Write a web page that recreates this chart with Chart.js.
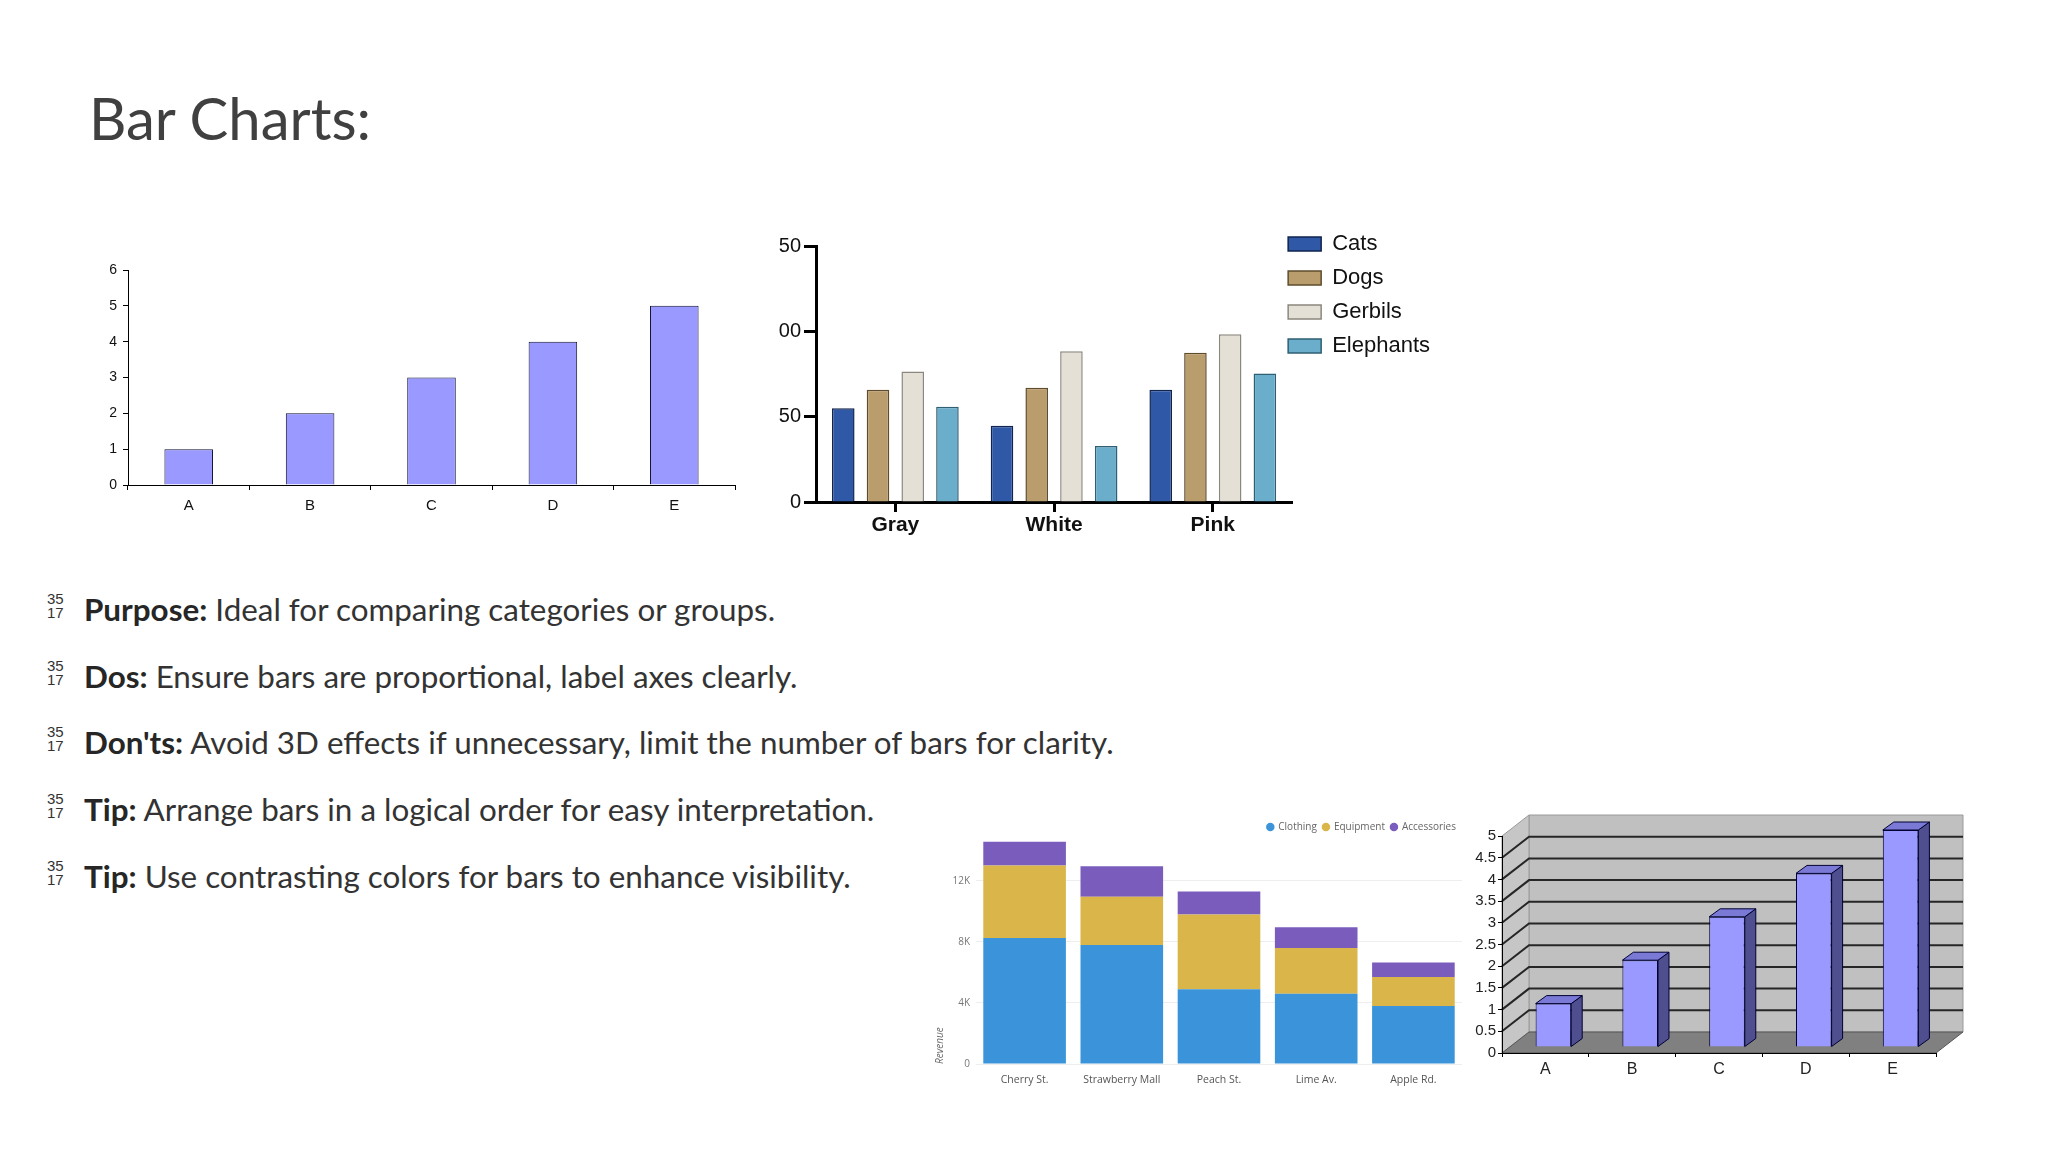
<!DOCTYPE html>
<html>
<head>
<meta charset="utf-8">
<script src="https://cdn.jsdelivr.net/npm/chart.js@4.4.1/dist/chart.umd.min.js"></script>
<style>
  body { margin: 0; width: 2048px; height: 1152px; background: #fff; position: relative; overflow: hidden; font-family: Lato, "Open Sans", sans-serif; }
  canvas { position: absolute; }
  .title { position: absolute; left: 89px; top: 83px; margin: 0; font-size: 58px; line-height: 70px; font-weight: 400; color: #404040; white-space: nowrap; }
  .row { position: absolute; left: 84px; font-size: 31.4px; line-height: 38px; color: #333; white-space: nowrap; }
  .row b { color: #262626; }
  .mark { position: absolute; left: 47px; font-family: "Liberation Sans", Arial, sans-serif; font-size: 15px; line-height: 14px; color: #333; }
</style>
</head>
<body>
<div class="title">Bar Charts:</div>

<canvas id="simple" width="700" height="280" style="left:60px;top:250px"></canvas>
<canvas id="pets" width="740" height="325" style="left:740px;top:215px"></canvas>
<canvas id="revenue" width="560" height="293" style="left:920px;top:809px"></canvas>
<canvas id="fake3d" width="520" height="300" style="left:1470px;top:800px"></canvas>

<div id="notes"></div>

<script>
// data: simple bar chart (top left)
const simpleLabels = ['A', 'B', 'C', 'D', 'E'];
const simpleValues = [1, 2, 3, 4, 5];

// data: grouped pets chart (top middle)
const petGroups    = ['Gray', 'White', 'Pink'];
const petCats      = [55, 44.7, 65.7];
const petDogs      = [65.7, 66.9, 87.4];
const petGerbils   = [76.5, 88.4, 98.3];
const petElephants = [55.8, 32.8, 75.3];
const petTickText  = { 0: '0', 50: '50', 100: '00', 150: '50' };  // leading digit is cut off in the source

// data: stacked revenue chart (bottom middle)
const stores       = ['Cherry St.', 'Strawberry Mall', 'Peach St.', 'Lime Av.', 'Apple Rd.'];
const clothing     = [8250, 7800, 4900, 4600, 3800];
const equipment    = [4750, 3150, 4900, 3000, 1900];
const accessories  = [1550, 2000, 1500, 1350, 950];
const revenueTicks = [0, 4000, 8000, 12000];

// data: 3D style bar chart (bottom right)
const depthLabels = ['A', 'B', 'C', 'D', 'E'];
const depthValues = [1, 2, 3, 4, 5];

// bullet text
const notes = [
    ['Purpose:', 'Ideal for comparing categories or groups.'],
    ['Dos:', 'Ensure bars are proportional, label axes clearly.'],
    ["Don'ts:", 'Avoid 3D effects if unnecessary, limit the number of bars for clarity.'],
    ['Tip:', 'Arrange bars in a logical order for easy interpretation.'],
    ['Tip:', 'Use contrasting colors for bars to enhance visibility.']
];

const notesEl = document.getElementById('notes');
notesEl.innerHTML = notes.map((n, i) => {
    const base = 620 + i * 66.7;
    return `
    <div class="mark" style="top:${Math.round(base - 28)}px">35<br>17</div>
    <div class="row" style="top:${Math.round(base - 30)}px"><b>${n[0]}</b> ${n[1]}</div>`;
}).join('');

Chart.defaults.font.family = '"Liberation Sans", Arial, sans-serif';
Chart.defaults.animation = false;
Chart.defaults.responsive = false;
Chart.defaults.devicePixelRatio = 1;
Chart.defaults.plugins.tooltip.enabled = false;

// moves a legend box after layout
function shiftLegend(dx, dy) {
    return {
        id: 'shiftLegend',
        afterLayout(chart) {
            const l = chart.legend;
            l.left += dx; l.right += dx;
            l.top += dy;  l.bottom += dy;
        }
    };
}

// top left chart
new Chart(document.getElementById('simple'), {
    type: 'bar',
    data: {
        labels: simpleLabels,
        datasets: [{
            data: simpleValues,
            backgroundColor: '#9999ff',
            borderColor: '#111133',
            borderWidth: 1,
            categoryPercentage: 1,
            barPercentage: 0.4
        }]
    },
    options: {
        layout: { padding: { top: 20, right: 25, left: 0, bottom: 0 } },
        plugins: { legend: { display: false } },
        scales: {
            x: {
                grid: { drawOnChartArea: false, tickLength: 5, color: '#000', offset: true },
                border: { color: '#000' },
                ticks: { color: '#111', font: { size: 15 }, padding: 7 },
                afterFit: s => { s.height = 45; }
            },
            y: {
                min: 0, max: 6,
                grid: { drawOnChartArea: false, tickLength: 5, color: '#000' },
                border: { color: '#000' },
                ticks: { stepSize: 1, color: '#111', font: { size: 14 }, padding: 6 },
                afterFit: s => { s.width = 68; }
            }
        }
    }
});

// top middle chart
const petSeries = [
    ['Cats', petCats, '#2f58a6', '#10244f'],
    ['Dogs', petDogs, '#b99d6c', '#5f4c2d'],
    ['Gerbils', petGerbils, '#e4e0d6', '#8a877e'],
    ['Elephants', petElephants, '#6aaecb', '#2e5f73']
];

new Chart(document.getElementById('pets'), {
    type: 'bar',
    data: {
        labels: petGroups,
        datasets: petSeries.map(s => ({
            label: s[0],
            data: s[1],
            backgroundColor: s[2],
            borderColor: s[3],
            borderWidth: 1.5,
            categoryPercentage: 0.875,
            barPercentage: 0.65
        }))
    },
    options: {
        layout: { padding: { top: 31, right: 24, left: 0, bottom: 0 } },
        plugins: {
            legend: {
                position: 'right',
                align: 'start',
                labels: { boxWidth: 33, boxHeight: 14, padding: 12, color: '#111', font: { size: 22 } }
            }
        },
        scales: {
            x: {
                grid: { drawOnChartArea: false, offset: false, tickLength: 10, tickWidth: 3, tickColor: '#000' },
                border: { color: '#000', width: 3 },
                ticks: { color: '#111', font: { size: 21, weight: 'bold' }, padding: 1 },
                afterFit: s => { s.height = 38; }
            },
            y: {
                min: 0, max: 150,
                grid: { drawOnChartArea: false, tickLength: 12, tickWidth: 3, tickColor: '#000' },
                border: { color: '#000', width: 3 },
                ticks: { stepSize: 50, color: '#111', font: { size: 20 }, padding: 3, callback: v => petTickText[v] },
                afterFit: s => { s.width = 76; }
            }
        }
    },
    plugins: [shiftLegend(-16, -25)]
});

// bottom middle chart
const revenueSeries = [
    ['Clothing', clothing, '#3b94d9'],
    ['Equipment', equipment, '#d9b54a'],
    ['Accessories', accessories, '#7a5cbd']
];

new Chart(document.getElementById('revenue'), {
    type: 'bar',
    data: {
        labels: stores,
        datasets: revenueSeries.map(s => ({
            label: s[0],
            data: s[1],
            backgroundColor: s[2],
            borderWidth: 0,
            categoryPercentage: 1,
            barPercentage: 0.85
        }))
    },
    options: {
        layout: { padding: { top: 0, right: 18, left: 0, bottom: 0 } },
        plugins: {
            legend: {
                position: 'top',
                align: 'end',
                labels: {
                    usePointStyle: true, pointStyle: 'circle', boxWidth: 6, boxHeight: 6,
                    padding: 6, color: '#666', font: { family: '"Open Sans", sans-serif', size: 10 }
                }
            }
        },
        scales: {
            x: {
                stacked: true,
                grid: { display: false },
                border: { display: false },
                ticks: { color: '#555', font: { family: '"Open Sans", sans-serif', size: 10.5 }, padding: 2 },
                afterFit: s => { s.height = 38; }
            },
            y: {
                stacked: true,
                min: 0, max: 15000,
                grid: { color: '#eeeeee', drawTicks: false },
                border: { display: false },
                title: {
                    display: true, text: 'Revenue', align: 'start', color: '#666',
                    padding: { top: 14, bottom: 4 },
                    font: { family: '"Open Sans", sans-serif', size: 10, style: 'italic' }
                },
                ticks: {
                    padding: 6, color: '#777',
                    font: { family: '"Open Sans", sans-serif', size: 10 },
                    callback: v => v === 0 ? '0' : (v / 1000) + 'K'
                },
                afterBuildTicks: s => { s.ticks = revenueTicks.map(v => ({ value: v })); },
                afterFit: s => { s.width = 56; }
            }
        }
    },
    plugins: [shiftLegend(0, 7)]
});

// bottom right chart: walls, floor and bar depth drawn around normal bars
const wallDepth = { dx: 27, dy: -21 };
const barShift  = { dx: 8, dy: -6 };
const barDepth  = { dx: 11, dy: -8 };

function poly(ctx, pts, fill, stroke, lw) {
    ctx.beginPath();
    pts.forEach((p, i) => i ? ctx.lineTo(p[0], p[1]) : ctx.moveTo(p[0], p[1]));
    ctx.closePath();
    if (fill) { ctx.fillStyle = fill; ctx.fill(); }
    if (stroke) { ctx.strokeStyle = stroke; ctx.lineWidth = lw || 1; ctx.stroke(); }
}

const depthPlugin = {
    id: 'depth',
    beforeDraw(chart) {
        const { ctx, chartArea: a, scales: { y } } = chart;
        const { dx, dy } = wallDepth;
        const y0 = y.getPixelForValue(0);
        const yT = y.getPixelForValue(y.max);
        ctx.save();
        // back wall
        poly(ctx, [[a.left + dx, yT + dy], [a.right + dx, yT + dy], [a.right + dx, y0 + dy], [a.left + dx, y0 + dy]], '#c0c0c0', '#9a9a9a', 1);
        // left wall
        poly(ctx, [[a.left, y0], [a.left, yT], [a.left + dx, yT + dy], [a.left + dx, y0 + dy]], '#c6c6c6', '#9a9a9a', 1);
        // floor
        poly(ctx, [[a.left, y0], [a.right, y0], [a.right + dx, y0 + dy], [a.left + dx, y0 + dy]], '#808080', '#555', 1);
        // grid lines on both walls
        ctx.strokeStyle = '#262626';
        ctx.lineWidth = 2;
        y.ticks.forEach(t => {
            if (t.value === 0 || t.value === y.max) return;
            const py = y.getPixelForValue(t.value);
            ctx.beginPath();
            ctx.moveTo(a.left, py);
            ctx.lineTo(a.left + dx, py + dy);
            ctx.lineTo(a.right + dx, py + dy);
            ctx.stroke();
        });
        ctx.restore();
    },
    beforeDatasetsDraw(chart) {
        chart.ctx.save();
        chart.ctx.translate(barShift.dx, barShift.dy);
    },
    afterDatasetsDraw(chart) {
        const ctx = chart.ctx;
        const { dx, dy } = barDepth;
        chart.getDatasetMeta(0).data.forEach(bar => {
            const { x, y, base, width } = bar.getProps(['x', 'y', 'base', 'width'], true);
            const l = x - width / 2, r = x + width / 2;
            poly(ctx, [[r, y], [r + dx, y + dy], [r + dx, base + dy], [r, base]], '#4f4f8f', '#000033', 1);
            poly(ctx, [[l, y], [l + dx, y + dy], [r + dx, y + dy], [r, y]], '#7a7ad6', '#000033', 1);
        });
        ctx.restore();
    }
};

new Chart(document.getElementById('fake3d'), {
    type: 'bar',
    data: {
        labels: depthLabels,
        datasets: [{
            data: depthValues,
            backgroundColor: '#9999ff',
            borderColor: '#000033',
            borderWidth: 1,
            categoryPercentage: 1,
            barPercentage: 0.41
        }]
    },
    options: {
        layout: { padding: { top: 36, right: 54, left: 0, bottom: 0 } },
        plugins: { legend: { display: false } },
        scales: {
            x: {
                grid: { drawOnChartArea: false, offset: true, tickLength: 4, color: '#000' },
                border: { color: '#000' },
                ticks: { color: '#222', font: { size: 16 }, padding: 3 },
                afterFit: s => { s.height = 47; }
            },
            y: {
                min: 0, max: 5,
                grid: { drawOnChartArea: false, tickLength: 4, color: '#000' },
                border: { color: '#000' },
                ticks: { stepSize: 0.5, autoSkip: false, color: '#222', font: { size: 15 }, padding: 2, callback: v => String(v) },
                afterFit: s => { s.width = 32; }
            }
        }
    },
    plugins: [depthPlugin]
});
</script>
</body>
</html>
